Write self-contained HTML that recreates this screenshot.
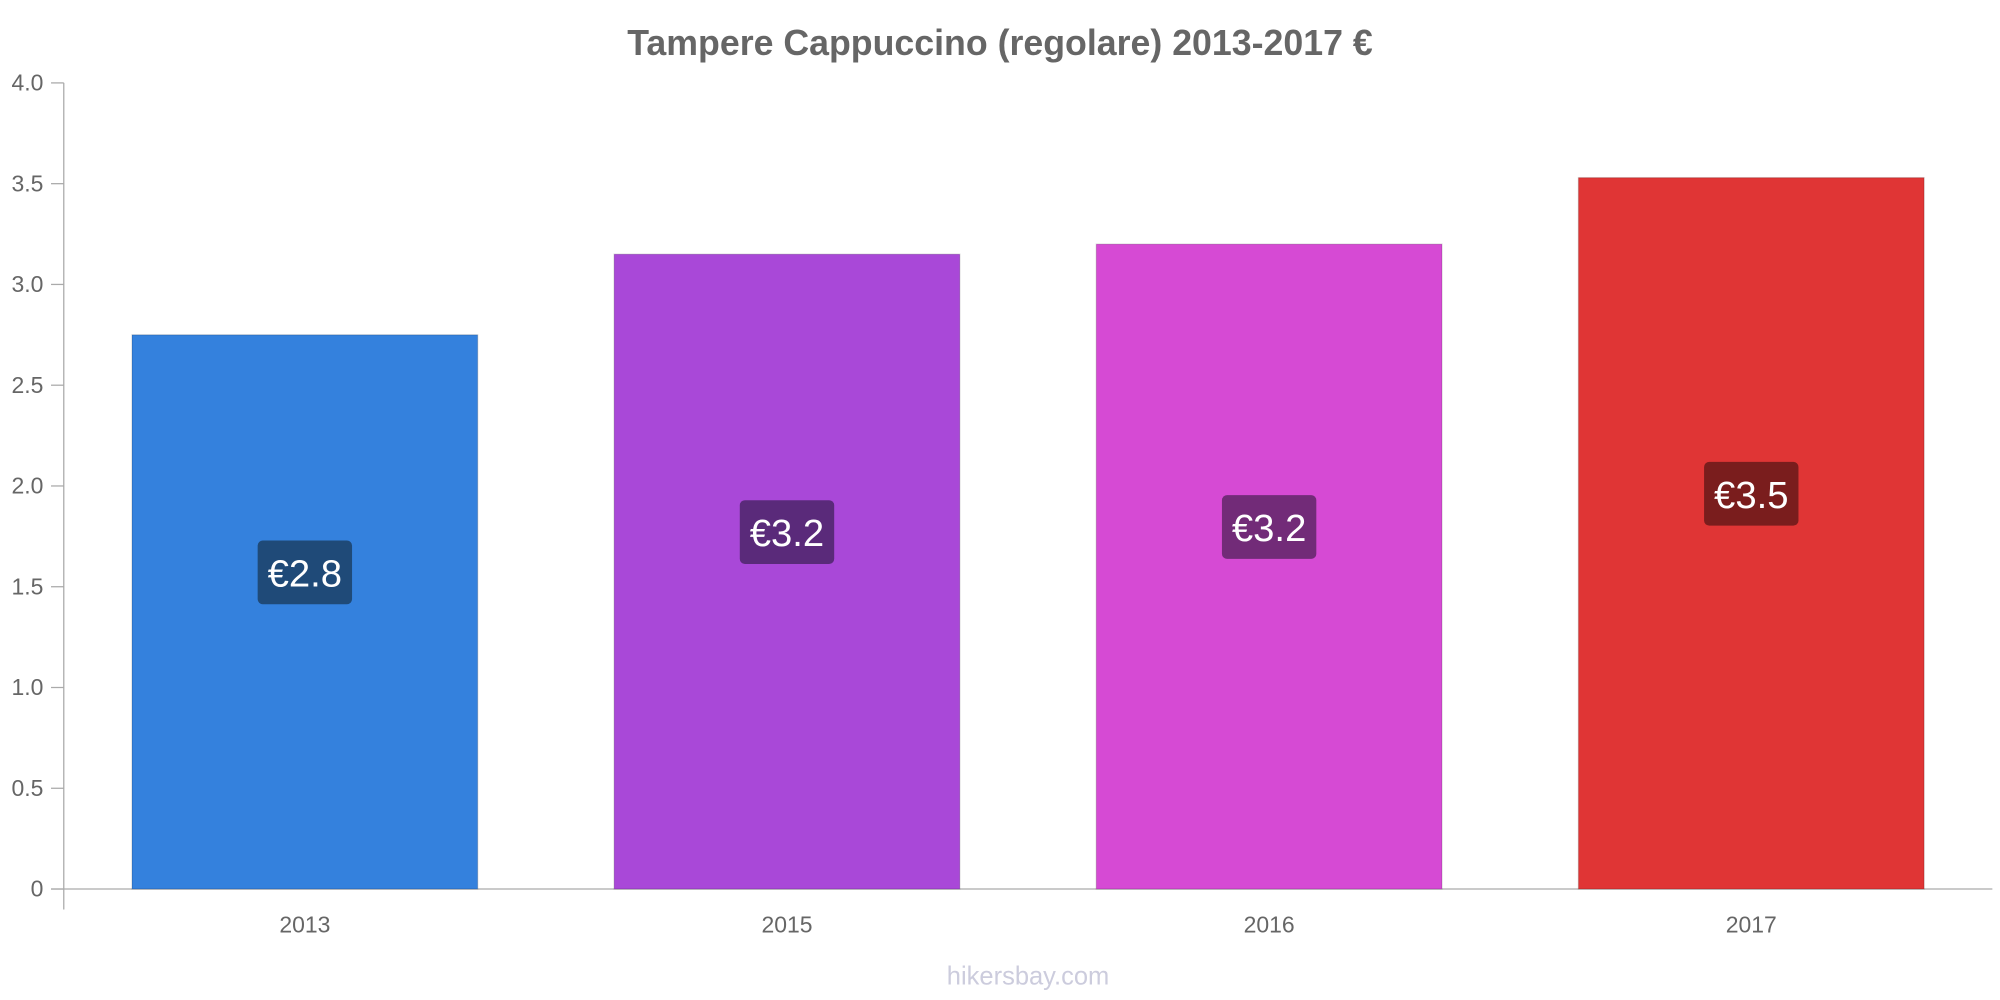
<!DOCTYPE html>
<html><head><meta charset="utf-8"><style>
html,body{margin:0;padding:0;background:#fff;}
svg{display:block;font-family:"Liberation Sans",Arial,sans-serif;}
</style></head><body>
<svg id="chart" width="2000" height="1000" viewBox="0 0 1568 784" xmlns="http://www.w3.org/2000/svg">
<text x="784" y="43" text-anchor="middle" font-size="28" font-weight="bold" fill="#666">Tampere Cappuccino (regolare) 2013-2017 €</text>
<g id="grid"></g>
<line x1="50" y1="65" x2="50" y2="713" stroke="#aaa" stroke-width="1"/>
<line x1="40" y1="697" x2="1562" y2="697" stroke="#aaa" stroke-width="1"/>
<g id="bars"></g>
<text x="806" y="772" text-anchor="middle" font-size="20" fill="#ccd">hikersbay.com</text>
</svg>
<script>
const categories = ["2013","2015","2016","2017"];
const values = [2.75, 3.15, 3.2, 3.53];
const valueLabels = ["€2.8","€3.2","€3.2","€3.5"];
const yTicks = [0,0.5,1,1.5,2,2.5,3,3.5,4];
const yTickLabels = ["0","0.5","1.0","1.5","2.0","2.5","3.0","3.5","4.0"];
const colors = ["#3481dd","#a948d8","#d64ad4","#e03535"];
const labelBg = ["#1f4a78","#5a2a7a","#722b78","#7a1d1d"];
const NS="http://www.w3.org/2000/svg";
const x0=50,x1=1562,yBase=697,yTop=65,yMax=4;
const y=v=>yBase-(v/yMax)*(yBase-yTop);
const band=(x1-x0)/categories.length;
const xc=i=>x0+band*(i+0.5);
function mk(t,a,p){const e=document.createElementNS(NS,t);for(const k in a)e.setAttribute(k,a[k]);p.appendChild(e);return e;}
const g=document.getElementById('grid'), b=document.getElementById('bars');
yTicks.forEach((t,i)=>{
  const l=mk('line',{x1:40,x2:50,y1:y(t),y2:y(t),stroke:'#aaa'},g);
  
  
  const tx=mk('text',{x:34,y:y(t)+6,'text-anchor':'end','font-size':18,fill:'#666'},g);
  tx.textContent=yTickLabels[i];
  
  
});
const bw=band*0.717;
categories.forEach((c,i)=>{
  const r=mk('rect',{x:xc(i)-bw/2,y:y(values[i]),width:bw,height:yBase-y(values[i]),fill:colors[i],stroke:'rgba(0,0,0,0.15)'},b);
  
  
  const ly=(y(values[i])+yBase)/2-31;
  const bx=mk('rect',{x:xc(i)-37,y:ly-25,width:74,height:50,rx:4,fill:labelBg[i]},b);
  
  
  const t=mk('text',{x:xc(i),y:ly+11,'text-anchor':'middle','font-size':30,fill:'#fff'},b);
  t.textContent=valueLabels[i];
  
  
  const xl=mk('text',{x:xc(i),y:731,'text-anchor':'middle','font-size':18,fill:'#666'},b);
  xl.textContent=c;
  
  
});
</script>
</body></html>
